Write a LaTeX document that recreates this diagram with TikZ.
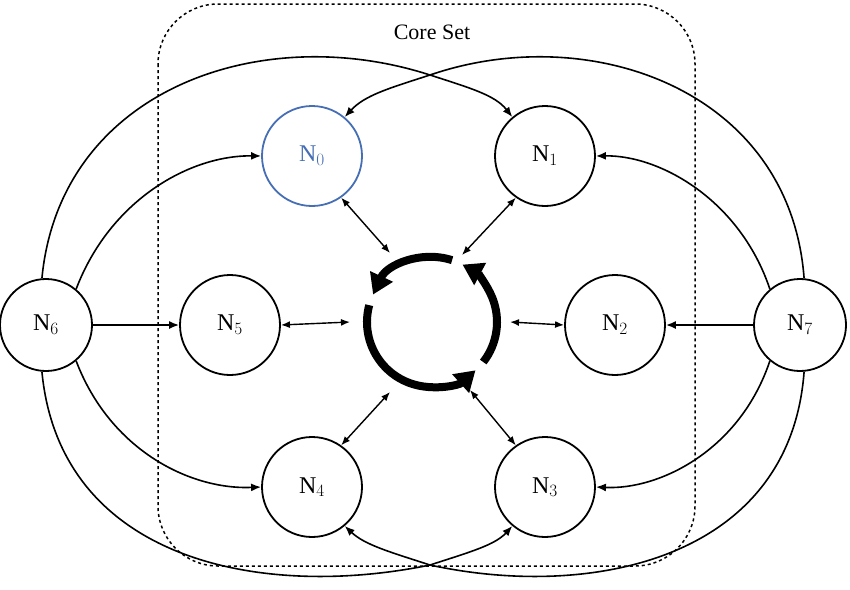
\documentclass[tikz,border=0pt]{standalone}
\usepackage{fontspec}
\setmainfont{Liberation Serif}
\usetikzlibrary{arrows.meta}
\begin{document}
\begin{tikzpicture}[x=1pt,y=-1pt,
  nd/.style={circle,draw,line width=1.8pt,minimum size=100pt,inner sep=0pt,font=\fontsize{24}{24}\selectfont},
  sm/.style={circle,draw,line width=1.8pt,minimum size=92pt,inner sep=0pt,font=\fontsize{24}{24}\selectfont},
  con/.style={line width=1.6pt,-{Latex[length=10pt,width=8pt]}},
  bi/.style={line width=1.4pt,{Latex[length=9pt,width=7pt]}-{Latex[length=9pt,width=7pt]}},
  cyc/.style={line width=8pt,-{Triangle[length=20pt,width=24pt]}}]
\useasboundingbox (0,0) rectangle (850,589);
\draw[dashed,line width=1.5pt,rounded corners=60pt] (158,4) rectangle (695,566);
\node at (432,32) {\fontsize{22}{22}\selectfont Core Set};
\node[nd,draw={rgb,255:red,70;green,110;blue,180},text={rgb,255:red,70;green,110;blue,180}] (n0) at (312,156) {N$_0$};
\node[nd] (n1) at (545,156) {N$_1$};
\node[nd] (n5) at (230,325) {N$_5$};
\node[nd] (n2) at (615,325) {N$_2$};
\node[nd] (n4) at (312,487) {N$_4$};
\node[nd] (n3) at (545,487) {N$_3$};
\node[sm] (n6) at (46,325) {N$_6$};
\node[sm] (n7) at (800,325) {N$_7$};
\coordinate (c) at (432,322);
% cycle
\draw[cyc] ([shift={(195:65)}]c) arc[start angle=195,end angle=48,radius=65];
\draw[cyc] ([shift={(38:65)}]c) arc[start angle=38,end angle=-62,radius=65];
\draw[cyc] ([shift={(-72:65)}]c) arc[start angle=-72,end angle=-155,radius=65];
% outer arcs
\draw[con] (n6.95) .. controls (60,90) and (260,20) .. (430,75) .. controls (470,88) and (495,95) .. (n1.130);
\draw[con] (n7.85) .. controls (790,90) and (590,20) .. (430,75) .. controls (390,88) and (365,95) .. (n0.50);
\draw[con] (n6.50) .. controls (110,200) and (190,155) .. (n0.west);
\draw[con] (n7.130) .. controls (740,200) and (660,155) .. (n1.east);
\draw[con] (n6.east) -- (n5.west);
\draw[con] (n7.west) -- (n2.east);
\draw[con] (n6.-50) .. controls (110,450) and (190,490) .. (n4.west);
\draw[con] (n7.-130) .. controls (740,450) and (660,490) .. (n3.east);
\draw[con] (n6.-95) .. controls (60,560) and (260,600) .. (430,565) .. controls (470,552) and (495,545) .. (n3.-130);
\draw[con] (n7.-85) .. controls (790,560) and (590,600) .. (430,565) .. controls (390,552) and (365,545) .. (n4.-50);
% double arrows
\draw[bi] (n0.-55) -- (390,253);
\draw[bi] (n1.-125) -- (462,255);
\draw[bi] (n5.east) -- (350,322);
\draw[bi] (n2.west) -- (510,322);
\draw[bi] (n4.55) -- (390,392);
\draw[bi] (n3.125) -- (470,390);
\end{tikzpicture}
\end{document}
